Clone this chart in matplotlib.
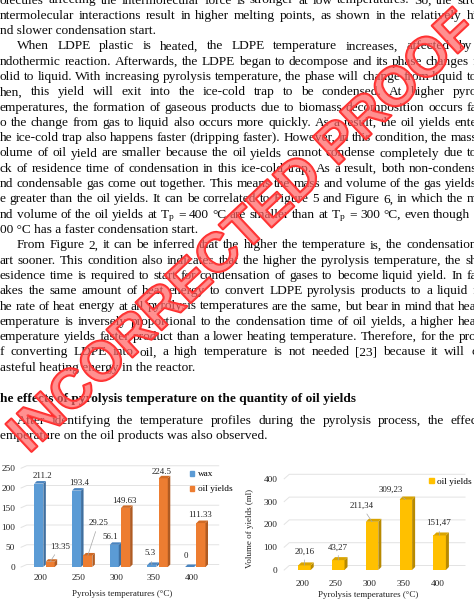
import numpy as np
import matplotlib
matplotlib.use("Agg")
import matplotlib.pyplot as plt
from matplotlib.patches import Polygon, Patch
import matplotlib.patheffects as pe

# --- Datos de las figuras ---
temps = ["200", "250", "300", "350", "400"]
wax = [211.2, 193.4, 56.1, 5.3, 0]
oil_mass = [13.35, 29.25, 149.63, 224.5, 111.33]
oil_volume = [20.16, 43.27, 211.34, 309.23, 151.47]
volume_labels = ["20,16", "43,27", "211,34", "309,23", "151,47"]
left_yticks = [0, 50, 100, 150, 200, 250]
right_yticks = [0, 100, 200, 300, 400]

# --- Texto de la pagina (recortado a ambos lados como en la imagen) ---
page_lines = [
    "olecules affecting the intermolecular force is stronger at low temperatures. So, the stro",
    "ntermolecular interactions result in higher melting points, as shown in the relatively hi",
    "nd slower condensation start.",
    "When LDPE plastic is heated, the LDPE temperature increases, affected by",
    "ndothermic reaction. Afterwards, the LDPE began to decompose and its phase changes f",
    "olid to liquid. With increasing pyrolysis temperature, the phase will change from liquid to",
    "hen, this yield will exit into the ice-cold trap to be condensed. At higher pyro",
    "emperatures, the formation of gaseous products due to biomass decomposition occurs fa",
    "o the change from gas to liquid also occurs more quickly. As a result, the oil yields ente",
    "he ice-cold trap also happens faster (dripping faster). However, in this condition, the mass",
    "olume of oil yield are smaller because the oil yields cannot condense completely due to",
    "ck of residence time of condensation in this ice-cold trap. As a result, both non-condens",
    "nd condensable gas come out together. This means the mass and volume of the gas yields",
    "e greater than the oil yields. It can be correlated to Figure 5 and Figure 6, in which the m",
    r"nd volume of the oil yields at T$_\mathrm{p}$ = 400 °C are smaller than at T$_\mathrm{p}$ = 300 °C, even though",
    "00 °C has a faster condensation start.",
    "From Figure 2, it can be inferred that the higher the temperature is, the condensation",
    "art sooner. This condition also indicates that the higher the pyrolysis temperature, the sh",
    "esidence time is required to start for condensation of gases to become liquid yield. In fa",
    "akes the same amount of heat energy to convert LDPE pyrolysis products to a liquid f",
    "he rate of heat energy at all pyrolysis temperatures are the same, but bear in mind that hea",
    "emperature is inversely proportional to the condensation time of oil yields, a higher hea",
    "emperature yields faster product than a lower heating temperature.  Therefore, for the pro",
    "f converting LDPE into oil, a high temperature is not needed [23] because it will c",
    "asteful heating energy in the reactor.",
]
heading = "he effects of pyrolysis temperature on the quantity of oil yields"
last_par = [
    "After identifying the temperature profiles during the pyrolysis process, the effec",
    "emperature on the oil products was also observed.",
]
watermark = "INCORRECTED PROOF"

plt.rcParams["font.family"] = ["Liberation Serif", "DejaVu Serif"]
plt.rcParams["mathtext.fontset"] = "custom"
plt.rcParams["mathtext.rm"] = "Liberation Serif"
plt.rcParams["mathtext.it"] = "Liberation Serif:italic"

W, H = 474, 602
fig = plt.figure(figsize=(W / 100, H / 100), dpi=100)
fig.patch.set_facecolor("white")
renderer = fig.canvas.get_renderer()

# eje de pagina en pixeles
page = fig.add_axes([0, 0, 1, 1])
page.set_xlim(0, W)
page.set_ylim(H, 0)
page.axis("off")

TXT = dict(fontsize=9.6, color="#0a0a0a", va="baseline", ha="left")


def put_line(text, x0, x1, y, justify, **kw):
    """Escribe una linea; si justify, reparte las palabras entre x0 y x1."""
    if not justify:
        page.text(x0, y, text, **kw)
        return
    words = text.split()
    arts = [page.text(x0, y, w, **kw) for w in words]
    widths = [a.get_window_extent(renderer).width for a in arts]
    gap = (x1 - x0 - sum(widths)) / (len(words) - 1)
    x = x0
    for a, w in zip(arts, widths):
        a.set_x(x)
        x += w + gap


natural = {2, 15, 24}
indent = {3, 16}
right_end = {3: 471, 14: 470}
for i, line in enumerate(page_lines):
    y = 3.5 + 15.3 * i
    x0 = 17 if i in indent else 0
    put_line(line, x0, right_end.get(i, 477), y, i not in natural, **TXT)

page.text(0, 402, heading, fontweight="bold", **TXT)
put_line(last_par[0], 17, 477, 424, True, **TXT)
put_line(last_par[1], 0, 0, 439, False, **TXT)


# --- barras pseudo 3D ---
def make_axes(left, right, bottom, px_unit, xlim, ylim):
    top = bottom - (ylim[1] - ylim[0]) * px_unit
    ax = fig.add_axes([left / W, (H - bottom) / H, (right - left) / W, (bottom - top) / H])
    ax.set_xlim(*xlim)
    ax.set_ylim(*ylim)
    ax.patch.set_alpha(0)
    for s in ax.spines.values():
        s.set_visible(False)
    ux = (right - left) / (xlim[1] - xlim[0])
    return ax, ux


def bar3d(ax, xs, hs, w, front, side, top, depth, ux, uy):
    bars = ax.bar(xs, hs, w, color=front, zorder=3)
    dx, dy = depth / ux, depth / uy
    for b in bars:
        x0 = b.get_x()
        x1 = x0 + b.get_width()
        h = b.get_height()
        ax.add_patch(Polygon([(x1, 0), (x1 + dx, dy), (x1 + dx, h + dy), (x1, h)],
                             closed=True, color=side, zorder=3, lw=0))
        ax.add_patch(Polygon([(x0, h), (x0 + dx, h + dy), (x1 + dx, h + dy), (x1, h)],
                             closed=True, color=top, zorder=3, lw=0))


def grid3d(ax, ticks, x0, x1, shift, uy):
    for t in ticks:
        ax.plot([x0, x0 + 0.15, x1], [t, t + shift / uy, t + shift / uy],
                color="#e3e3e3", lw=0.7, zorder=1, clip_on=False)


def labels(ax, xs, vals, texts, offsets, leaders):
    for j, (x, v, t, off) in enumerate(zip(xs, vals, texts, offsets)):
        arrow = None
        if j in leaders:
            arrow = dict(arrowstyle="-", color="#a6a6a6", lw=0.5, shrinkA=1, shrinkB=0)
        ax.annotate(t, xy=(x, v), xytext=off, textcoords="offset pixels",
                    ha="center", va="center", fontsize=6.4, color="#222222",
                    arrowprops=arrow, annotation_clip=False, zorder=5)


LBL = dict(fontsize=6.5, color="#222222")
x = np.arange(len(temps))

# Grafico izquierdo: masa (wax / oil yields)
uyL = 0.395
axL, uxL = make_axes(21.1, 218.7, 567, uyL, (-0.62, 4.62), (0, 262))
grid3d(axL, left_yticks, -0.62, 4.62, 2.5, uyL)
bar3d(axL, x - 0.15, wax, 0.24, "#5b9bd5", "#3f6f9f", "#4a84bf", 2.5, uxL, uyL)
bar3d(axL, x + 0.15, oil_mass, 0.24, "#ed7d31", "#b05b22", "#d06a25", 2.5, uxL, uyL)
labels(axL, x - 0.15, wax, [str(v) for v in wax],
       [(3.9, 7.6), (2.8, 7.3), (-4, 7.5), (-2, 11.6), (-3.6, 11)], {3})
labels(axL, x + 0.15, oil_mass, [str(v) for v in oil_mass],
       [(9.8, 15), (10.4, 32), (-1.3, 7.2), (-1.6, 6.6), (-1, 8.5)], {0, 1})
axL.set_yticks(left_yticks)
axL.set_xticks(x - 0.1, temps)
axL.tick_params(length=0, labelsize=6.7, labelcolor="#222222")
axL.tick_params(axis="y", pad=4.3)
axL.tick_params(axis="x", pad=5.4)
axL.set_xlabel("Pyrolysis temperatures (°C)", **LBL)
axL.xaxis.set_label_coords((122 - 21.1) / 197.6, -(594 - 567) / (262 * uyL))
axL.xaxis.label.set_va("center")
axL.legend(handles=[Patch(color="#5b9bd5", label="wax"),
                    Patch(color="#ed7d31", label="oil yields")],
           loc="upper left", bbox_to_anchor=(189.5 / W, 1 - 470.5 / H),
           bbox_transform=fig.transFigure, frameon=False, fontsize=6.7,
           handlelength=0.5, handleheight=0.5, handletextpad=0.4,
           labelspacing=0.75, borderpad=0, borderaxespad=0)

# Grafico derecho: volumen de oil yields
uyR = 0.228
axR, uxR = make_axes(284.2, 465.0, 570, uyR, (-0.6, 4.75), (0, 430))
grid3d(axR, right_yticks, -0.6, 4.75, 4.5, uyR)
bar3d(axR, x, oil_volume, 0.37, "#ffc000", "#b88a00", "#d9a400", 3, uxR, uyR)
labels(axR, x, oil_volume, volume_labels,
       [(0.5, 13.7), (0, 12.8), (-10.5, 15.8), (-14.8, 9.5), (-1.4, 12.2)], {0, 1, 2, 3, 4})
axR.set_yticks(right_yticks)
axR.set_xticks(x - 0.07, temps)
axR.tick_params(length=0, labelsize=6.7, labelcolor="#222222")
axR.tick_params(axis="y", pad=5)
axR.tick_params(axis="x", pad=7.5)
axR.set_xlabel("Pyrolysis temperatures (°C)", **LBL)
axR.xaxis.set_label_coords((368 - 284.2) / 180.8, -(595 - 570) / (430 * uyR))
axR.xaxis.label.set_va("center")
axR.set_ylabel("Volume of yields (ml)", **LBL)
axR.yaxis.set_label_coords((250 - 284.2) / 180.8, (570 - 528) / (430 * uyR))
axR.yaxis.label.set_va("center")
axR.legend(handles=[Patch(color="#ffc000", label="oil yields")],
           loc="upper left", bbox_to_anchor=(429 / W, 1 - 477.5 / H),
           bbox_transform=fig.transFigure, frameon=False, fontsize=6.7,
           handlelength=0.5, handleheight=0.5, handletextpad=0.4,
           borderpad=0, borderaxespad=0)

# --- Marca de agua: se escala para que la N y la F caigan donde en la imagen ---
WM = dict(family="Liberation Sans", fontweight="bold", fontsize=40)
n_pt, f_pt = np.array([45.0, 420.0]), np.array([457.0, 35.0])


def text_w(s):
    t = page.text(0, 0, s, **WM)
    w = t.get_window_extent(renderer).width
    t.remove()
    return w


n_c = text_w(watermark[:1]) + text_w("N") / 2
f_c = text_w(watermark[:-1]) + text_w("F") / 2
scale = np.hypot(*(f_pt - n_pt)) / (f_c - n_c)
WM["fontsize"] *= scale
n_c *= scale
ang = np.arctan2(n_pt[1] - f_pt[1], f_pt[0] - n_pt[0])
start = n_pt - n_c * np.array([np.cos(ang), -np.sin(ang)])
fig.text(start[0] / W, 1 - start[1] / H, watermark, rotation=np.degrees(ang),
         rotation_mode="anchor", ha="left", va="center",
         color=(1.0, 0.38, 0.38, 0.45),
         path_effects=[pe.Stroke(linewidth=1.6, foreground="#ff2a2a"), pe.Normal()],
         zorder=10, **WM)

fig.savefig("out.png", dpi=100)
